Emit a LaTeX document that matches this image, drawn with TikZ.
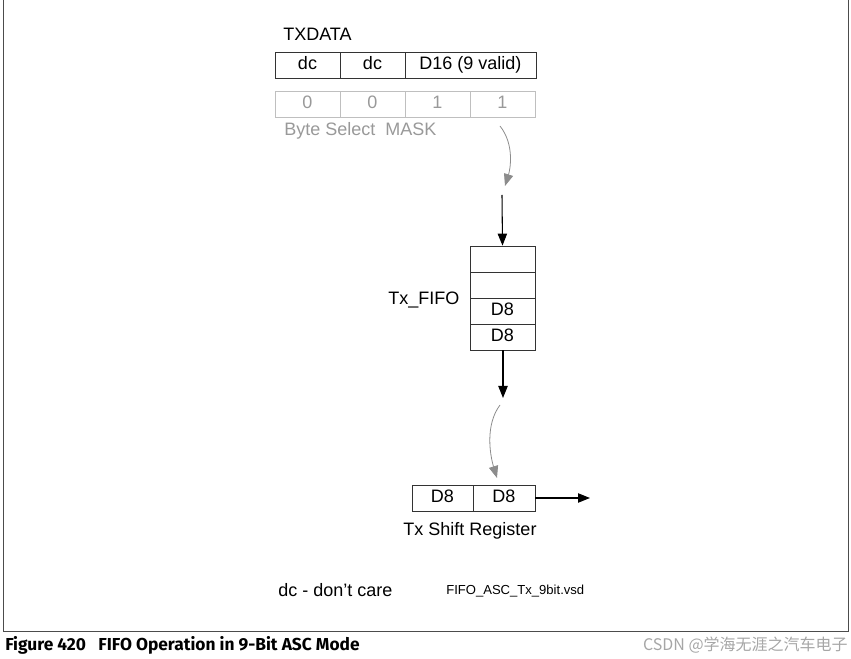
\documentclass[tikz,border=0pt]{standalone}
\usepackage{fontspec}
\setmainfont{Liberation Sans}
\newfontfamily\capfont{Fira Sans}
\newfontfamily\cjk{Noto Sans CJK SC}
\usetikzlibrary{arrows.meta}
\begin{document}
\begin{tikzpicture}[x=0.75pt,y=-0.75pt,
  cell/.style={draw=black!80,line width=0.6pt,minimum height=19.5pt,inner sep=0pt,text height=1.5ex,text depth=0.3ex,font=\fontsize{13.5}{15}\selectfont},
  gcell/.style={draw=black!25,line width=0.6pt,minimum height=19pt,minimum width=48.75pt,inner sep=0pt,text height=1.5ex,text depth=0.3ex,text=black!40,font=\fontsize{13.5}{15}\selectfont},
  lbl/.style={inner sep=0pt,font=\fontsize{13.5}{15}\selectfont},
  blk/.style={-{Triangle[length=9pt,width=7pt]},line width=0.8pt},
  gry/.style={-{Triangle[length=9pt,width=7pt,fill=black!45]},draw=black!45,line width=0.6pt}]
\path[use as bounding box] (0,0) rectangle (851,659);
% frame
\draw[black!70,line width=0.6pt] (3,0) -- (3,631) -- (848,631) -- (848,0);
% TXDATA
\node[lbl,anchor=west] (txl) at (283,34) {TXDATA};
\node[cell,minimum width=48.75pt] (c1) at (307.5,65) {dc};
\node[cell,minimum width=48.75pt] (c2) at (372.5,65) {dc};
\node[cell,minimum width=98.25pt] (c3) at (470.5,65) {D16 (9 valid)};
% mask
\node[gcell] (m1) at (307.5,104.5) {0};
\node[gcell] (m2) at (372.5,104.5) {0};
\node[gcell] (m3) at (437.5,104.5) {1};
\node[gcell] (m4) at (502.5,104.5) {1};
\node[lbl,text=black!40,anchor=west] (bsm) at (284,131) {Byte Select\ \ MASK};
\coordinate (g1s) at (500,126);
\coordinate (g1e) at (505,186);
\draw[gry] (g1s) .. controls (515,145) and (510,170) .. (g1e);
% FIFO
\coordinate (a1s) at (502,195);
\node[cell,minimum width=48.75pt] (f1) at (502.5,259) {};
\node[cell,minimum width=48.75pt] (f2) at (502.5,285) {};
\node[cell,minimum width=48.75pt] (f3) at (502.5,311) {D8};
\node[cell,minimum width=48.75pt] (f4) at (502.5,337) {D8};
\draw[blk] (a1s) -- (f1.north);
\node[lbl,anchor=west] (fl) at (388,300) {Tx\_FIFO};
\coordinate (a2e) at (503,398);
\draw[blk] (f4.south -| a2e) -- (a2e);
\coordinate (g2s) at (500,405);
\coordinate (g2e) at (497,478);
\draw[gry] (g2s) .. controls (485,425) and (490,455) .. (g2e);
% shift register
\node[cell,minimum width=45.75pt] (s1) at (442.5,498) {D8};
\node[cell,minimum width=46.5pt] (s2) at (504,498) {D8};
\coordinate (se) at (590,498);
\draw[blk] (s2.east) -- (se);
\node[lbl] (sl) at (470,531) {Tx Shift Register};
\node[lbl,anchor=west] (dc) at (278,590) {dc - don't care};
\node[inner sep=0pt,anchor=west,font=\fontsize{9.8}{11}\selectfont] (vsd) at (446,591) {FIFO\_ASC\_Tx\_9bit.vsd};
% caption
\node[inner sep=0pt,anchor=west,font=\capfont\bfseries\fontsize{13}{15}\selectfont] (cap) at (5,645) {Figure 420\ \ \ FIFO Operation in 9-Bit ASC Mode};
\node[inner sep=0pt,anchor=east,text=black!35,font=\cjk\fontsize{12}{13}\selectfont] (wm) at (848,645) {CSDN @学海无涯之汽车电子};
\end{tikzpicture}
\end{document}
